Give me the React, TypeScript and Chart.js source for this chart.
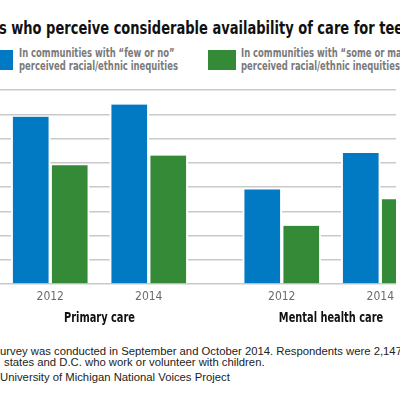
import React, { useEffect, useRef } from "react";
import { Chart, registerables } from "chart.js";

Chart.register(...registerables);

// ---- data ----
const YEAR_LABELS = ["2012", "2014", "2012", "2014"];
const GROUP_LABELS = ["Primary care", "Mental health care"];
const FEW_OR_NO = [69, 74, 39, 54];
const SOME_OR_MANY = [49, 53, 24, 35];
const SERIES_NAMES = [
  ["In communities with \u201cfew or no\u201d", "perceived racial/ethnic inequities"],
  ["In communities with \u201csome or many\u201d", "perceived racial/ethnic inequities"],
];
const TITLE_TEXT = "s who perceive considerable availability of care for teens";
const NOTE_LINES = [
  "urvey was conducted in September and October 2014. Respondents were 2,147 adults in all 50",
  "states and D.C. who work or volunteer with children.",
];
const SOURCE_LINE = "University of Michigan National Voices Project";

// ---- layout (not data) ----
const CAT_POS = [0, 1, 2.35, 3.35];
const GROUP_POS = [0.5, 2.85];
const X_MIN = -0.51;
const X_MAX = 3.51;

const BLUE = "#0279c3";
const GREEN = "#358a37";
const NARROW = "'Liberation Sans Narrow', 'DejaVu Sans Condensed', 'Arial Narrow', sans-serif";

const groupLabelPlugin = {
  id: "groupLabels",
  afterDraw(chart: any) {
    const s = chart.scales.x2;
    if (!s) return;
    const ctx = chart.ctx;
    ctx.save();
    ctx.fillStyle = "#111111";
    ctx.font = `bold 14px ${NARROW}`;
    ctx.textAlign = "center";
    ctx.textBaseline = "alphabetic";
    GROUP_POS.forEach((v, i) => {
      const px = s.getPixelForValue(v);
      ctx.save();
      ctx.translate(px, s.top + 14);
      ctx.scale(0.78, 1);
      ctx.fillText(GROUP_LABELS[i], 0, 0);
      ctx.restore();
    });
    ctx.restore();
  },
};

export default function App() {
  const canvasRef = useRef<HTMLCanvasElement | null>(null);

  useEffect(() => {
    if (!canvasRef.current) return;
    const mk = (vals: number[]) => CAT_POS.map((x, i) => ({ x, y: vals[i] }));
    const barCommon = {
      borderColor: "#ffffff",
      borderWidth: { left: 2, right: 2, top: 0, bottom: 0 },
      borderSkipped: false,
      barThickness: 39,
      xAxisID: "x",
      yAxisID: "y",
    };
    const chart = new Chart(canvasRef.current, {
      type: "bar",
      data: {
        datasets: [
          { label: SERIES_NAMES[0].join(" "), data: mk(FEW_OR_NO), backgroundColor: BLUE, ...barCommon } as any,
          { label: SERIES_NAMES[1].join(" "), data: mk(SOME_OR_MANY), backgroundColor: GREEN, ...barCommon } as any,
        ],
      },
      plugins: [groupLabelPlugin],
      options: {
        animation: false,
        responsive: true,
        maintainAspectRatio: false,
        layout: { padding: { top: 90, left: 0, right: 0, bottom: 0 } },
        plugins: {
          legend: { display: false },
          title: { display: false },
          tooltip: { enabled: false },
        },
        scales: {
          x: {
            type: "linear",
            position: "bottom",
            offset: false,
            min: X_MIN,
            max: X_MAX,
            grid: { display: false, drawTicks: false, offset: false },
            border: { display: false },
            afterBuildTicks: (s: any) => {
              s.ticks = CAT_POS.map((v) => ({ value: v }));
            },
            afterFit: (s: any) => {
              s.height = 24;
            },
            ticks: {
              autoSkip: false,
              maxRotation: 0,
              padding: 6,
              color: "#6b6b6b",
              font: { family: NARROW, size: 12 },
              callback: (_v: any, i: number) => YEAR_LABELS[i],
            },
          },
          x2: {
            type: "linear",
            position: "bottom",
            offset: false,
            min: X_MIN,
            max: X_MAX,
            grid: { display: false, drawTicks: false, offset: false },
            border: { display: false },
            afterBuildTicks: (s: any) => {
              s.ticks = GROUP_POS.map((v) => ({ value: v }));
            },
            afterFit: (s: any) => {
              s.height = 32;
            },
            ticks: { display: false },
          },
          y: {
            min: 0,
            max: 80,
            ticks: { display: false, stepSize: 10 },
            grid: { color: "#c9c9c9", lineWidth: 1.5, drawTicks: false },
            border: { display: false },
          },
        },
      },
    } as any);
    return () => chart.destroy();
  }, []);

  const legendText: React.CSSProperties = {
    position: "absolute",
    top: 47,
    fontFamily: NARROW,
    fontWeight: "bold",
    fontSize: 12.5,
    lineHeight: "12.5px",
    color: "#7a7a7a",
    whiteSpace: "nowrap",
    transform: "scaleX(0.75)",
    transformOrigin: "0 0",
  };
  const note: React.CSSProperties = {
    position: "absolute",
    left: 0,
    fontFamily: "'Liberation Sans', Arial, sans-serif",
    fontSize: 11.3,
    color: "#222",
    whiteSpace: "nowrap",
    lineHeight: "11px",
  };

  return (
    <div
      style={{
        position: "fixed",
        left: 0,
        top: 0,
        width: 400,
        height: 400,
        overflow: "hidden",
        background: "#fff",
      }}
    >
      <div
        style={{
          position: "absolute",
          left: -1,
          top: 18,
          fontFamily: NARROW,
          fontWeight: "bold",
          fontSize: 18,
          color: "#111",
          whiteSpace: "nowrap",
          lineHeight: "20px",
          transform: "scaleX(0.805)",
          transformOrigin: "0 0",
        }}
      >
        {TITLE_TEXT}
      </div>

      <div style={{ position: "absolute", left: -15, top: 50, width: 28, height: 20, background: BLUE }} />
      <div style={{ ...legendText, left: 19 }}>
        {SERIES_NAMES[0][0]}
        <br />
        {SERIES_NAMES[0][1]}
      </div>
      <div style={{ position: "absolute", left: 208, top: 50, width: 28, height: 20, background: GREEN }} />
      <div style={{ ...legendText, left: 241 }}>
        {SERIES_NAMES[1][0]}
        <br />
        {SERIES_NAMES[1][1]}
      </div>

      <div style={{ position: "absolute", left: 0, top: 0, width: 400, height: 340 }}>
        <canvas ref={canvasRef} />
      </div>

      <div style={{ ...note, top: 346 }}>{NOTE_LINES[0]}</div>
      <div style={{ ...note, top: 357, left: 4 }}>{NOTE_LINES[1]}</div>
      <div style={{ ...note, top: 372 }}>{SOURCE_LINE}</div>
    </div>
  );
}
